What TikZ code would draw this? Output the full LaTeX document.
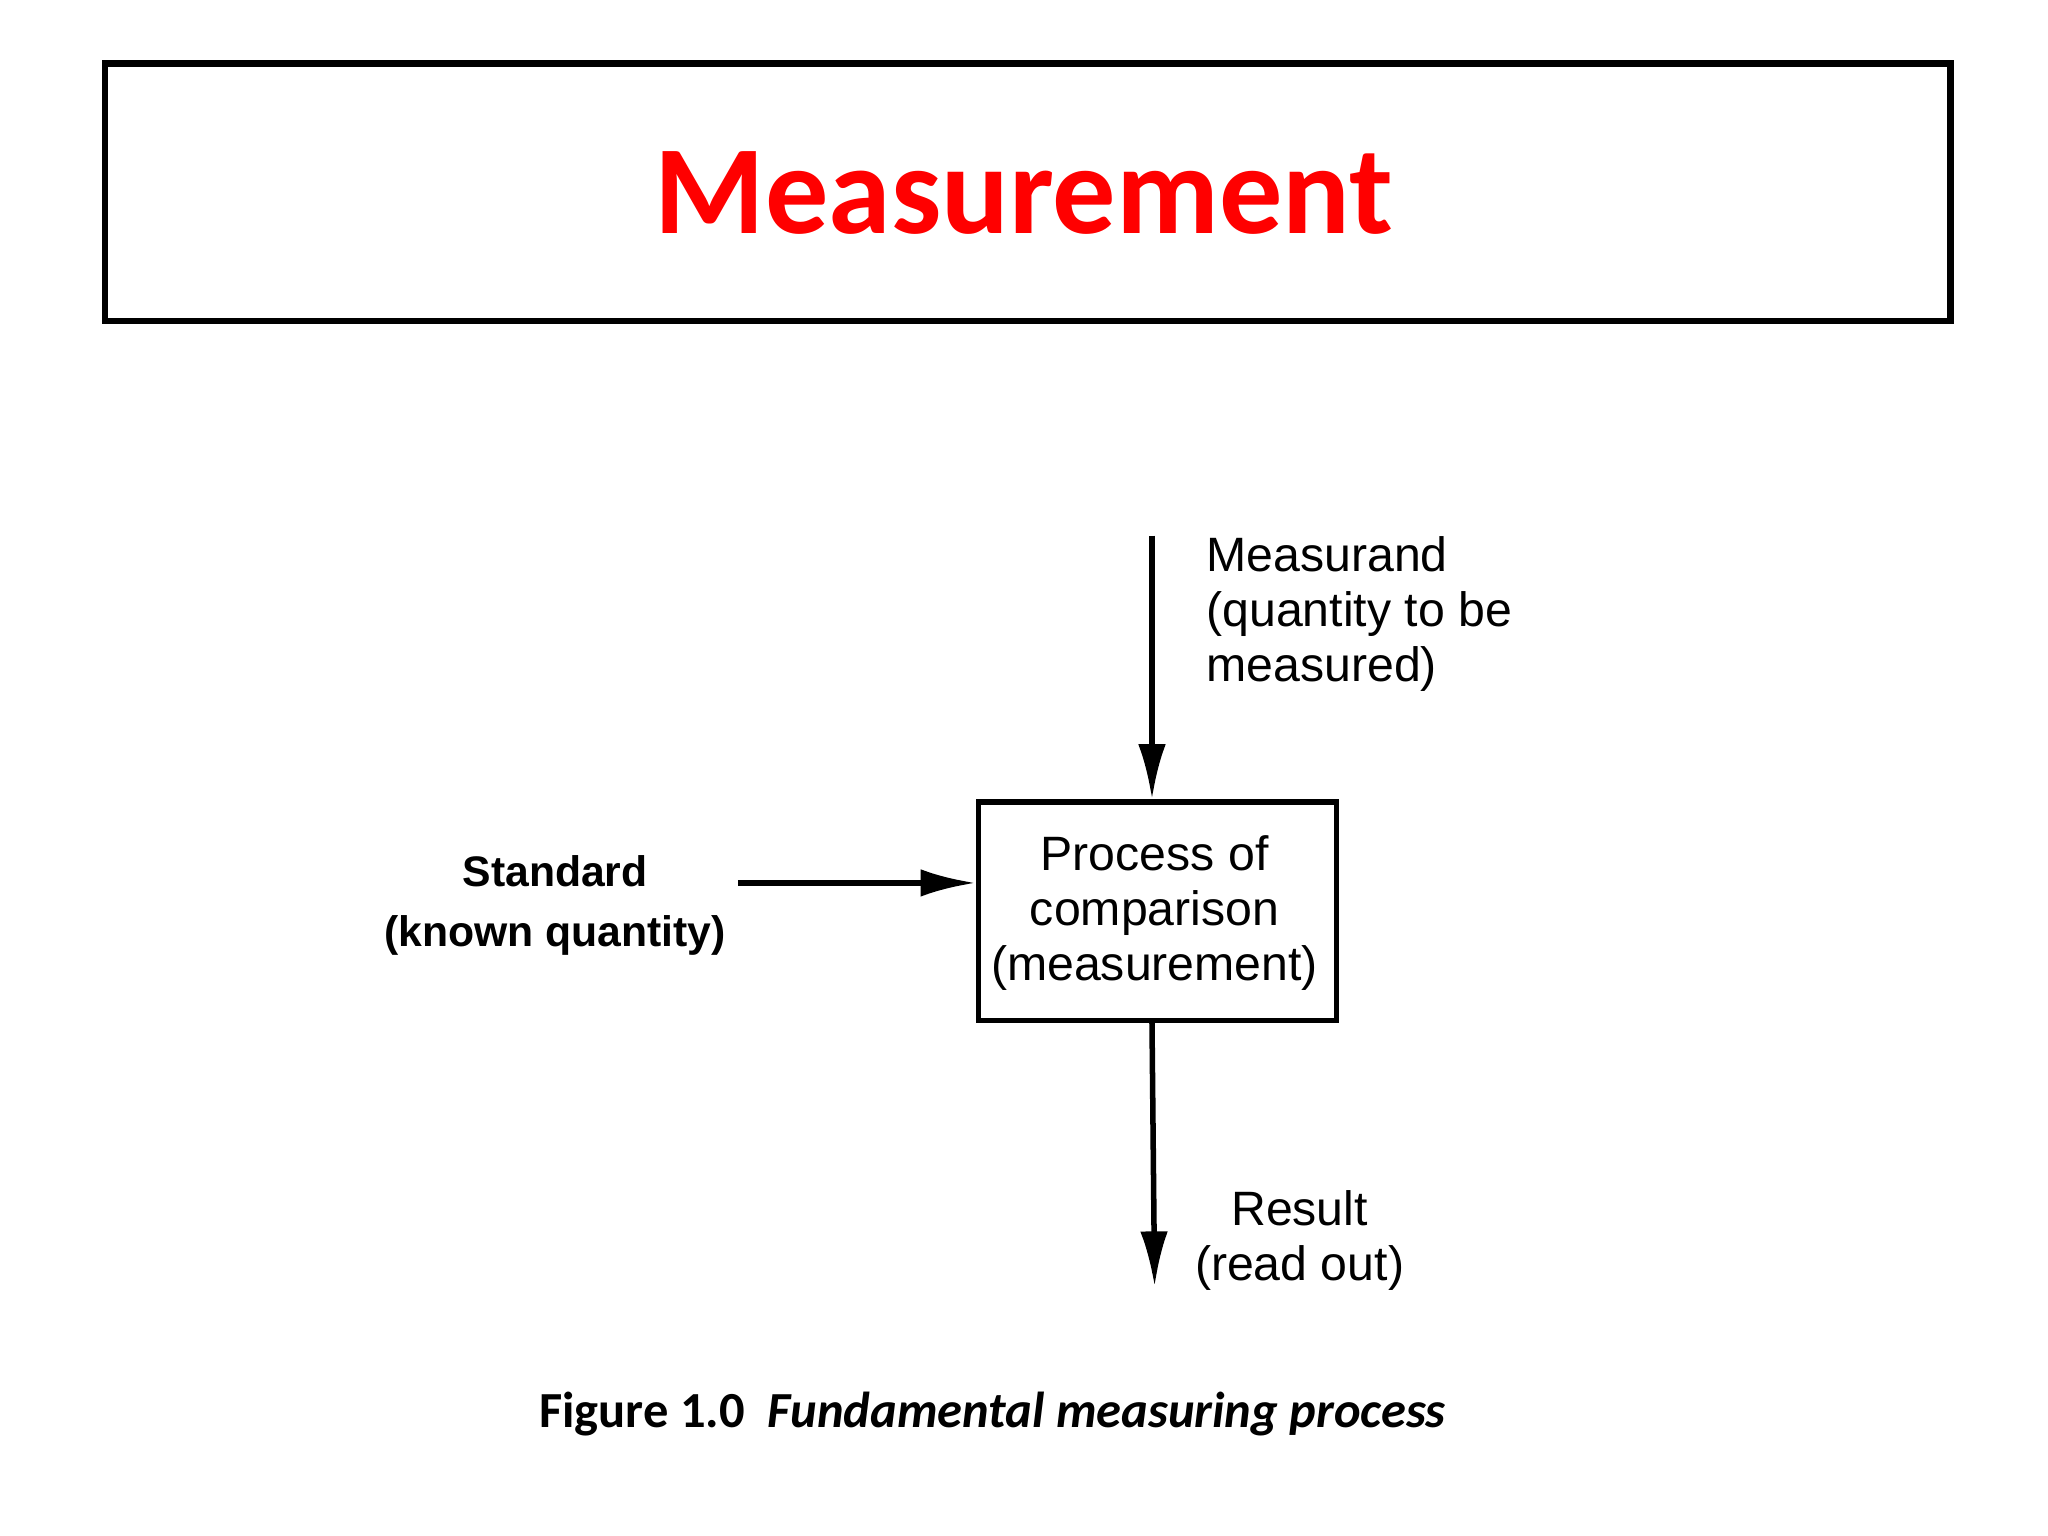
\documentclass[tikz,border=0pt]{standalone}
\usepackage{fontspec}
\setmainfont{Liberation Sans}
\newfontfamily\calfont{Carlito}
\usetikzlibrary{arrows.meta}
\begin{document}
\begin{tikzpicture}[x=0.01cm,y=-0.01cm,
  lbl/.style={font=\fontsize{10.5}{12}\selectfont,align=left,inner sep=0},
  arr/.style={line width=1.2pt,-{Latex[length=12pt,width=6pt]}}]
\useasboundingbox (0,0) rectangle (1568,1176);
\node[draw,line width=1.4pt,minimum width=14.12cm,minimum height=1.97cm,anchor=north west] (title) at (78,46) {};
\node[text=red,font=\calfont\bfseries\fontsize{27.5}{30}\selectfont] (tt) at (784,148) {Measurement};
\node[draw,line width=1.2pt,minimum width=2.74cm,minimum height=1.67cm,anchor=north west] (proc) at (747,612) {};
\node[lbl,align=center] (pt) at (884,699) {Process of\\comparison\\(measurement)};
\coordinate (mtop) at (882,410);
\coordinate (rbot) at (884,985);
\coordinate (sl) at (565,676);
\draw[arr] (mtop) -- (proc.north -| mtop);
\draw[arr] (sl) -- (proc.west |- sl);
\draw[arr] (proc.south -| mtop) -- (rbot);
\node[lbl,anchor=north west] (mt) at (923,410) {Measurand\\(quantity to be\\measured)};
\node[lbl,align=center,font=\bfseries\fontsize{9.3}{13}\selectfont] (st) at (425,693) {Standard\\(known quantity)};
\node[lbl,align=center] (rt) at (995,950) {Result\\(read out)};
\node[font=\calfont\bfseries\fontsize{11}{13}\selectfont] (cap) at (760,1083) {Figure 1.0\ \ \textit{Fundamental measuring process}};
\end{tikzpicture}
\end{document}
